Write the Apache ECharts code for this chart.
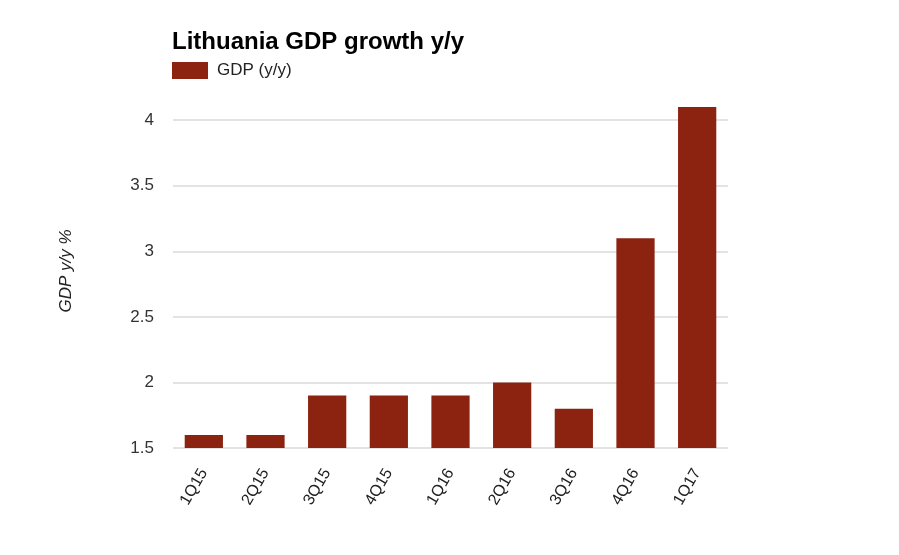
<!DOCTYPE html>
<html lang="en">
<head>
    <meta charset="utf-8">
    <title>Lithuania GDP growth y/y</title>
    <script src="https://cdn.jsdelivr.net/npm/echarts@6/dist/echarts.min.js"></script>
    <style>
        html, body { margin: 0; padding: 0; background: #fff; }
        #chart { width: 899px; height: 555px; }
    </style>
</head>
<body>
    <div id="chart"></div>
    <script>
        // quarters on the x axis
        const quarters = ['1Q15', '2Q15', '3Q15', '4Q15', '1Q16', '2Q16', '3Q16', '4Q16', '1Q17'];
        // GDP growth y/y, %
        const gdpValues = [1.6, 1.6, 1.9, 1.9, 1.9, 2.0, 1.8, 3.1, 4.1];
        const seriesName = 'GDP (y/y)';

        const font = '"Liberation Sans", Arial, sans-serif';
        const barColor = '#8c2210';

        const myChart = echarts.init(document.getElementById('chart'));
        const option = {
            animation: false,
            title: {
                text: 'Lithuania GDP growth y/y',
                left: 167,
                top: 25,
                textStyle: { fontFamily: font, fontSize: 24, fontWeight: 'bold', color: '#000' }
            },
            legend: {
                data: [seriesName],
                left: 167,
                top: 57,
                itemWidth: 36,
                itemHeight: 17,
                itemGap: 10,
                icon: 'rect',
                textStyle: { fontFamily: font, fontSize: 17, color: '#222', padding: [0, 0, 0, 4] }
            },
            grid: {
                left: 173,
                right: 171,
                top: 94,
                bottom: 107
            },
            xAxis: {
                type: 'category',
                data: quarters,
                axisLine: { show: false },
                axisTick: { show: false },
                axisLabel: {
                    rotate: 60,
                    margin: 22,
                    fontFamily: font,
                    fontSize: 16,
                    color: '#222'
                }
            },
            yAxis: {
                type: 'value',
                min: 1.5,
                max: 4.2,
                interval: 0.5,
                name: 'GDP y/y %',
                nameLocation: 'middle',
                nameGap: 98,
                nameTextStyle: { fontFamily: font, fontSize: 17, fontStyle: 'italic', color: '#222' },
                axisLine: { show: false },
                axisTick: { show: false },
                axisLabel: {
                    margin: 19,
                    fontFamily: font,
                    fontSize: 17,
                    color: '#333',
                    showMaxLabel: false
                },
                splitLine: {
                    showMaxLine: false,
                    lineStyle: { color: '#dadada', width: 1.5 }
                }
            },
            series: [{
                name: seriesName,
                type: 'bar',
                data: gdpValues,
                barCategoryGap: '38%',
                itemStyle: { color: barColor }
            }]
        };
        myChart.setOption(option);
    </script>
</body>
</html>
